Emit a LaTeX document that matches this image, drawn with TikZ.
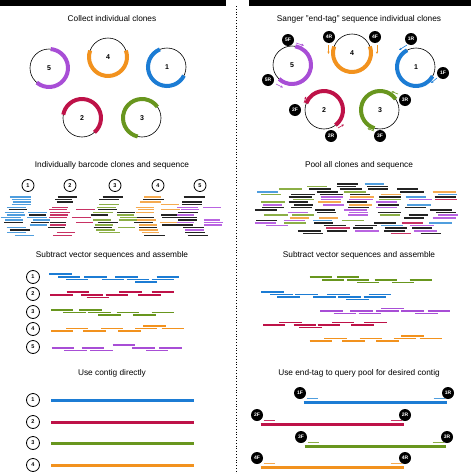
\documentclass[tikz,border=0pt]{standalone}
\usepackage{fontspec}
\setmainfont{Liberation Sans}
\usetikzlibrary{arrows.meta,calc}
\definecolor{cblue}{RGB}{28,124,212}
\definecolor{ccrim}{RGB}{190,18,72}
\definecolor{cgreen}{RGB}{104,150,30}
\definecolor{corange}{RGB}{242,146,30}
\definecolor{cpurple}{RGB}{168,78,214}
\definecolor{rblue}{RGB}{80,158,222}
\definecolor{rcrim}{RGB}{200,50,100}
\definecolor{rgreen}{RGB}{140,175,70}
\definecolor{rorange}{RGB}{245,170,80}
\definecolor{rpurple}{RGB}{185,100,225}
\definecolor{rblack}{RGB}{35,35,35}
\newcommand{\clonearc}[4]{\draw[#2, line width=4pt] (#1.center) ++(#3:19) arc[start angle=#3, end angle=#4, radius=19];}
\begin{document}
\begin{tikzpicture}[x=1pt,y=-1pt,
  title/.style={font=\fontsize{8.3}{10}\selectfont, inner sep=0},
  clone/.style={circle, draw, line width=0.6pt, minimum size=38pt, inner sep=0, font=\fontsize{7}{8}\selectfont\bfseries},
  numc/.style={circle, draw, line width=0.8pt, minimum size=12pt, inner sep=0, font=\fontsize{5.5}{6}\selectfont\bfseries},
  tag/.style={circle, fill=black, text=white, minimum size=12pt, inner sep=0, font=\fontsize{5}{5}\selectfont\bfseries},
  tagarrow/.style={line width=0.6pt, -{Stealth[length=2.5pt,width=2.2pt]}},
  read/.style={line width=1.5pt},
  sread/.style={line width=1.35pt},
  contig/.style={line width=3pt},
  ptag/.style={line width=1.1pt}]
\useasboundingbox[fill=white] (0,0) rectangle (474,474);
% top bars and divider
\fill[black] (0,0) rectangle (226,6);
\fill[black] (249,0) rectangle (471,6);
\draw[dotted, line width=0.8pt] (236.5,6) -- (236.5,474);
% titles
\node[title] (t1) at (112,19) {Collect individual clones};
\node[title] (t2) at (359,19) {Sanger "end-tag" sequence individual clones};
\node[title] (t3) at (112,165) {Individually barcode clones and sequence};
\node[title] (t4) at (359,165) {Pool all clones and sequence};
\node[title] (t5) at (112,255) {Subtract vector sequences and assemble};
\node[title] (t6) at (359,255) {Subtract vector sequences and assemble};
\node[title] (t7) at (112,373) {Use contig directly};
\node[title] (t8) at (359,373) {Use end-tag to query pool for desired contig};
% left clones
\node[clone] (L5) at (49,68) {5};
\node[clone] (L4) at (108,57) {4};
\node[clone] (L1) at (167,67) {1};
\node[clone] (L2) at (82,118) {2};
\node[clone] (L3) at (142,118) {3};
\clonearc{L5}{cpurple}{130}{-85}
\clonearc{L4}{corange}{-160}{-380}
\clonearc{L1}{cblue}{-112}{-333}
\clonearc{L2}{ccrim}{49}{-170}
\clonearc{L3}{cgreen}{-36}{-257}
% right clones
\node[clone] (R5) at (292,65) {5};
\node[clone] (R4) at (352,53) {4};
\node[clone] (R1) at (416,67) {1};
\node[clone] (R2) at (324,110) {2};
\node[clone] (R3) at (380,110) {3};
\clonearc{R5}{cpurple}{133}{-80}
\clonearc{R4}{corange}{-160}{-380}
\clonearc{R1}{cblue}{-118}{-331}
\clonearc{R2}{ccrim}{53}{-159}
\clonearc{R3}{cgreen}{-35}{-253}
% tags
\node[tag] (g5F) at (288,40) {5F};
\node[tag] (g5R) at (268,80) {5R};
\node[tag] (g4R) at (329,37) {4R};
\node[tag] (g4F) at (375,37) {4F};
\node[tag] (g1R) at (411,39) {1R};
\node[tag] (g1F) at (443,73) {1F};
\node[tag] (g2F) at (295,110) {2F};
\node[tag] (g2R) at (331,136) {2R};
\node[tag] (g3R) at (405,100) {3R};
\node[tag] (g3F) at (380,136) {3F};
\draw[tagarrow, cpurple] (296,43) -- (304,45.5);
\draw[tagarrow, cpurple] (276,84) -- (283,87.5);
\draw[tagarrow, corange] (328.5,45) -- (328.5,54);
\draw[tagarrow, corange] (377,45) -- (377,54);
\draw[tagarrow, cblue] (407,45) -- (399,50);
\draw[tagarrow, cblue] (437,78) -- (431,83);
\draw[tagarrow, ccrim] (304,103) -- (306,96.5);
\draw[tagarrow, ccrim] (338,128) -- (344,124.5);
\draw[tagarrow, cgreen] (398,94) -- (391.5,91.5);
\draw[tagarrow, cgreen] (374,131) -- (367.5,128.5);
% section 2 left
\foreach \i/\xx in {1/28,2/70,3/115,4/158,5/200} {\node[numc] (b\i) at (\xx,185.5) {\i};}
\pgfmathsetseed{3}
\foreach \cx/\col in {26/rblue,70/rcrim,115/rgreen,157/rorange,200/rpurple}{
 \foreach \r in {0,...,15}{
  \pgfmathsetmacro{\yy}{197+2.55*\r}
  \pgfmathsetmacro{\hw}{23*(0.6+0.4*sin(180*(\r+0.5)/16))}
  \pgfmathsetmacro{\ph}{-\hw+6*rnd-3}
  \foreach \k in {0,1}{
   \pgfmathsetmacro{\xs}{\cx+\ph+\k*25+3*rnd}
   \pgfmathsetmacro{\ln}{16+5*rnd}
   \pgfmathtruncatemacro{\ok}{((\xs+\ln)<(\cx+\hw+3))*(rnd<0.8)}
   \pgfmathtruncatemacro{\cc}{rnd<0.45}
   \ifnum\ok=1
     \ifnum\cc=1 \def\rc{rblack}\else\def\rc{\col}\fi
     \draw[sread, color=\rc] (\xs,\yy) -- ++(\ln,0);
   \fi
  }
 }
}
% section 2 right pool
\pgfmathsetseed{11}
\foreach \r in {0,...,19}{
  \pgfmathsetmacro{\yy}{184+2.6*\r}
  \pgfmathsetmacro{\hw}{min(100,26+26*\r)-(\r>15)*(\r-15)*3}
  \pgfmathsetmacro{\ph}{-\hw+8*rnd-4}
  \foreach \k in {0,...,7}{
    \pgfmathsetmacro{\xs}{358+\ph+\k*29+4*rnd}
    \pgfmathsetmacro{\ln}{19+5*rnd}
    \pgfmathtruncatemacro{\ok}{((\xs+\ln)<(358+\hw+3))*(rnd<0.72)}
    \pgfmathtruncatemacro{\ci}{rnd*10}
    \ifnum\ok=1
      \ifcase\ci \def\rc{rblack}\or\def\rc{rblack}\or\def\rc{rblack}\or\def\rc{rblue}\or\def\rc{rcrim}\or\def\rc{rgreen}\or\def\rc{rorange}\or\def\rc{rpurple}\or\def\rc{rblack}\else\def\rc{rpurple}\fi
      \draw[read, color=\rc] (\xs,\yy) -- ++(\ln,0);
    \fi
  }
}
% section 3 left
\foreach \i/\yy in {1/277,2/294,3/312,4/329,5/347} {\node[numc, minimum size=13pt] (s\i) at (33,\yy) {\i};}
\foreach \y/\a/\b in {274/49.3/71.7, 277/58.3/80, 277/84.3/106.7, 277/115/137.7, 277/156.7/179,
  279.5/66/88.3, 279.5/101.7/124, 279.5/126.7/149, 279.5/151.7/174, 282/135/157.3}
  {\draw[read, cblue] (\a,\y) -- (\b,\y);}
\foreach \y/\a/\b in {292/66.7/89, 292/119/141.7, 292/151.7/174, 295/50/72.7, 295/81/103.3,
  295/105.7/127.7, 295/138.3/160.7, 297.5/86.7/109.3}
  {\draw[read, ccrim] (\a,\y) -- (\b,\y);}
\foreach \y/\a/\b in {310/51/73.3, 310/79.3/101.7, 312.5/63.3/85.7, 312.5/88.3/111, 312.5/116.7/139,
  312.5/151.7/174, 315/98.3/120.7, 315/133.3/156}
  {\draw[read, cgreen] (\a,\y) -- (\b,\y);}
\foreach \y/\a/\b in {326/143.3/165.7, 328.5/66/88.3, 328.5/101/123.3, 328.5/135/157.3, 328.5/161.7/184,
  331/51/73.3, 331/83.3/106, 331/118.3/140.7}
  {\draw[read, corange] (\a,\y) -- (\b,\y);}
\foreach \y/\a/\b in {345/112.7/135, 348/51.7/74, 348/81.7/104, 348/132.3/155, 348/159/181.7,
  350.5/64.3/86.7, 350.5/90/112.7, 350.5/146/168.3}
  {\draw[read, cpurple] (\a,\y) -- (\b,\y);}
% section 3 right
\foreach \y/\a/\b in {277/309.7/332, 277/337/359.3, 280/322/344.3, 280/347/369.3, 280/374.7/397,
  280/409.7/432.3, 282.5/357/379.3, 282.5/392/414.3}
  {\draw[read, cgreen] (\a,\y) -- (\b,\y);}
\foreach \y/\a/\b in {292/261.3/283.7, 294.5/270.3/292.7, 294.5/295.3/318, 294.5/327/349.7, 294.5/368.7/391,
  297/277/299.7, 297/313/335.7, 297/338/360.7, 297/363.7/386, 299.5/346.3/369}
  {\draw[read, cblue] (\a,\y) -- (\b,\y);}
\foreach \y/\a/\b in {308.5/381.3/403.7, 311/320.3/343, 311/350.3/373, 311/376.3/399, 311/401.3/423.7,
  311/427.7/450.3, 313.5/333.7/356, 313.5/358.7/381.3, 313.5/415.3/437.7}
  {\draw[read, cpurple] (\a,\y) -- (\b,\y);}
\foreach \y/\a/\b in {322.5/279.3/302, 322.5/332/354.3, 322.5/364.3/387, 325/263/285.3, 325/293.7/316.3,
  325/317.7/340.3, 325/351/373.7, 327.5/299.3/322}
  {\draw[read, ccrim] (\a,\y) -- (\b,\y);}
\foreach \y/\a/\b in {336/401.3/423.7, 338.5/324.3/347, 338.5/359.7/382.3, 338.5/393.7/416.3, 338.5/419.7/442.3,
  341/309.7/332, 341/342/364.7, 341/376.3/399}
  {\draw[read, corange] (\a,\y) -- (\b,\y);}
% section 4 left
\foreach \i/\yy/\col in {1/400/cblue,2/422/ccrim,3/443/cgreen,4/465/corange} {
  \node[numc, minimum size=13pt] (u\i) at (33,\yy) {\i};
  \coordinate (ua\i) at (51,\yy);
  \coordinate (ub\i) at (194,\yy);
  \draw[contig, \col] (ua\i) -- (ub\i);
}
% section 4 right
\foreach \n/\fx/\rx/\yy/\col/\pcol in {1/300/448/393/cblue/rblue, 2/257/405/415/ccrim/rcrim,
  3/301/447/437/cgreen/rgreen, 4/257/405/458/corange/rorange} {
  \coordinate (ca\n) at (\fx+3.5,\yy+9);
  \coordinate (cb\n) at (\rx-1.5,\yy+9);
  \draw[contig, \col] (ca\n) -- (cb\n);
  \draw[ptag, \pcol] ($(ca\n)+(3,-3.5)$) -- ++(11,0);
  \draw[ptag, \pcol] ($(cb\n)+(-13,-3.5)$) -- ++(11,0);
  \node[tag] (q\n F) at (\fx,\yy) {\n F};
  \node[tag] (q\n R) at (\rx,\yy) {\n R};
}
\end{tikzpicture}
\end{document}
